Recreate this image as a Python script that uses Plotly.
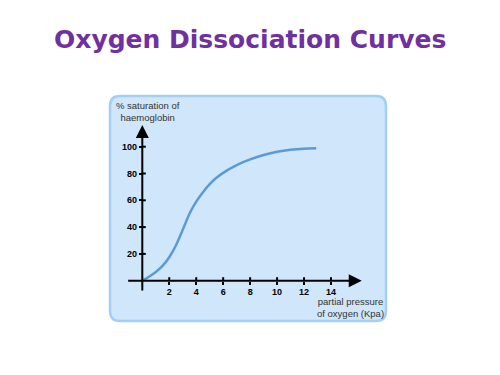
import plotly.graph_objects as go

# ---- data ----
pressure = [0, 0.5, 1, 1.5, 2, 2.5, 3, 3.5, 4, 4.5, 5, 5.5, 6, 7, 8, 9, 10, 11, 12, 12.9]
saturation = [0, 3.0, 6.5, 11.0, 17.5, 26.5, 38, 50.0, 59.0, 66.0, 72, 76.8, 80.5, 86.3, 90.5, 93.8, 96.2, 97.7, 98.5, 98.8]
x_ticks = [2, 4, 6, 8, 10, 12, 14]
y_ticks = [20, 40, 60, 80, 100]
title_text = "Oxygen Dissociation Curves"
y_title = "% saturation of<br>haemoglobin"
x_title = "partial pressure<br>of oxygen (Kpa)"

OFF = 8                     # page body margin
W, H = 500 - 2 * OFF, 375 - 2 * OFF
X0PX, XSCALE = 142.3 - OFF, 13.48   # pixel of x=0 inside figure, px per unit
Y0PX, YSCALE = 280.7 - OFF, 1.34    # pixel (from top) of y=0 inside figure, px per unit

xr = [-X0PX / XSCALE, (W - X0PX) / XSCALE]
yr = [-(H - Y0PX) / YSCALE, Y0PX / YSCALE]

def px(x):
    return (x - OFF) / W

def py(y):
    return 1 - (y - OFF) / H

fig = go.Figure()
fig.add_trace(go.Scatter(
    x=pressure, y=saturation, mode="lines",
    line=dict(color="#5b9bd5", width=2.5, shape="spline", smoothing=0.6),
    hoverinfo="skip", showlegend=False, cliponaxis=False,
))

# rounded box
L, R, T, B, r = 110, 386, 96, 321, 10
path = (f"M {px(L+r)} {py(T)} L {px(R-r)} {py(T)} Q {px(R)} {py(T)} {px(R)} {py(T+r)} "
        f"L {px(R)} {py(B-r)} Q {px(R)} {py(B)} {px(R-r)} {py(B)} "
        f"L {px(L+r)} {py(B)} Q {px(L)} {py(B)} {px(L)} {py(B-r)} "
        f"L {px(L)} {py(T+r)} Q {px(L)} {py(T)} {px(L+r)} {py(T)} Z")
shapes = [dict(type="path", path=path, xref="paper", yref="paper",
               fillcolor="#d0e6fb", line=dict(color="#a3cef5", width=2.5), layer="below")]

# inside halves of cross ticks
for t in x_ticks:
    shapes.append(dict(type="line", xref="x", yref="y", x0=t, x1=t,
                       ysizemode="pixel", yanchor=0, y0=0, y1=3.5,
                       line=dict(color="black", width=2)))
for t in y_ticks:
    shapes.append(dict(type="line", xref="x", yref="y", y0=t, y1=t,
                       xsizemode="pixel", xanchor=0, x0=0, x1=3.5,
                       line=dict(color="black", width=2)))

annotations = [
    # axis arrows
    dict(x=16.28, y=0, ax=-1.16, ay=0, xref="x", yref="y", axref="x", ayref="y",
         text="", showarrow=True, arrowhead=2, arrowsize=1.3, arrowwidth=2,
         arrowcolor="black", standoff=0),
    dict(x=0, y=116.2, ax=0, ay=-8.4, xref="x", yref="y", axref="x", ayref="y",
         text="", showarrow=True, arrowhead=2, arrowsize=1.3, arrowwidth=2,
         arrowcolor="black", standoff=0),
    dict(x=px(250), y=py(40), xref="paper", yref="paper", text=f"<b>{title_text}</b>",
         showarrow=False, xanchor="center", yanchor="middle",
         font=dict(family="DejaVu Sans", size=25, color="#7030a0")),
    dict(x=px(148), y=py(111.5), xref="paper", yref="paper", text=y_title,
         showarrow=False, xanchor="center", yanchor="middle", align="center",
         font=dict(family="Liberation Sans", size=9.5, color="#333333")),
    dict(x=px(350), y=py(307.5), xref="paper", yref="paper", text=x_title,
         showarrow=False, xanchor="center", yanchor="middle", align="center",
         font=dict(family="Liberation Sans", size=9.5, color="#333333")),
]

tick_font = dict(family="Liberation Sans", size=9, color="black", weight="bold")

fig.update_layout(
    width=W, height=H, margin=dict(l=0, r=0, t=0, b=0),
    paper_bgcolor="white", plot_bgcolor="rgba(0,0,0,0)",
    shapes=shapes, annotations=annotations, showlegend=False,
    xaxis=dict(range=xr, domain=[0, 1], anchor="free", position=(H - Y0PX) / H,
               showgrid=False, zeroline=False, showline=False,
               tickmode="array", tickvals=x_ticks, ticktext=[str(v) for v in x_ticks],
               ticks="outside", ticklen=3.5, tickwidth=2, tickcolor="black",
               ticklabelstandoff=-1,
               tickfont=tick_font, fixedrange=True),
    yaxis=dict(range=yr, domain=[0, 1], anchor="free", position=X0PX / W,
               showgrid=False, zeroline=False, showline=False,
               tickmode="array", tickvals=y_ticks, ticktext=[str(v) for v in y_ticks],
               ticks="outside", ticklen=3.5, tickwidth=2, tickcolor="black",
               tickfont=tick_font, fixedrange=True),
)

fig.write_html("out.html")
